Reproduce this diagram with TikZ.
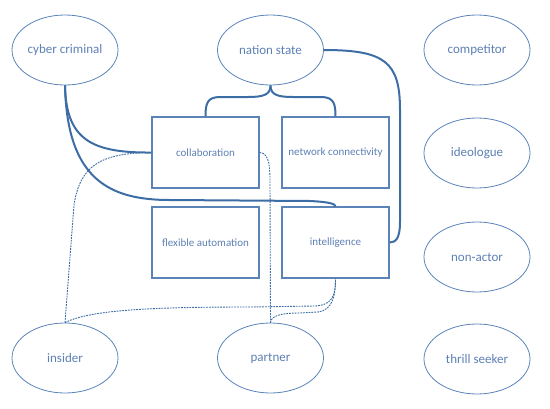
\documentclass[tikz,border=0pt]{standalone}
\usepackage{fontspec}
\setmainfont{Carlito}
\usetikzlibrary{shapes.geometric}
\definecolor{edgeblue}{HTML}{5A84B8}
\definecolor{linkblue}{HTML}{3D6DA5}
\definecolor{textblue}{HTML}{5D80B4}
\tikzset{
  actor/.style={draw=edgeblue, line width=.8pt, ellipse, minimum width=106pt, minimum height=70pt, inner sep=0pt, text=textblue, font=\fontsize{13}{15}\selectfont},
  factor/.style={draw=edgeblue, line width=1.1pt, rectangle, minimum width=107pt, minimum height=71pt, inner sep=0pt, text=textblue, font=\fontsize{11}{13}\selectfont},
  link/.style={draw=linkblue, line width=2pt},
  maybe/.style={draw=linkblue, line width=.9pt, dash pattern=on 1.8pt off 1pt}
}
\begin{document}
\begin{tikzpicture}[x=1pt,y=-1pt]
	\useasboundingbox (0,0) rectangle (550,408);
	% actors
	\node[actor] (cyber) at (65,50) {cyber criminal};
	\node[actor] (nation) at (270.5,50) {nation state};
	\node[actor] (compet) at (477,50) {competitor};
	\node[actor] (ideo) at (477,153) {ideologue};
	\node[actor] (nonact) at (477,257) {non-actor};
	\node[actor] (thrill) at (477,359) {thrill seeker};
	\node[actor] (insider) at (65,358) {insider};
	\node[actor] (partner) at (270.5,358) {partner};
	% factors
	\node[factor] (collab) at (205.5,152.5) {collaboration};
	\node[factor] (netconn) at (335.5,152.5) {network connectivity};
	\node[factor] (flexauto) at (205.5,242.5) {flexible automation};
	\node[factor] (intel) at (335.5,242.5) {intelligence};
	% solid links
	\draw[link] (nation.south) .. controls (270.5,95) and (263,97) .. (248,97) -- (220,97) .. controls (207,97) and (205.5,104) .. (collab.north);
	\draw[link] (nation.south) .. controls (270.5,95) and (278,97) .. (293,97) -- (321,97) .. controls (334,97) and (335.5,104) .. (netconn.north);
	\draw[link] (nation.east) .. controls (385,50) and (400,62) .. (400,110) -- (400,222) .. controls (400,238) and (396,242.5) .. (intel.east);
	\draw[link] (cyber.south) .. controls (66,140) and (92,153) .. (collab.west);
	\draw[link] (cyber.south) .. controls (67,180) and (110,200) .. (170,200) -- (310,201) .. controls (330,202) and (335.5,204) .. (intel.north);
	% dotted links
	\draw[maybe] (insider.north) -- (74,205) .. controls (80,166) and (100,153) .. (collab.west);
	\draw[maybe] (insider.north) .. controls (90,310) and (150,307) .. (250,307) -- (315,306) .. controls (333,305) and (335.5,295) .. (intel.south);
	\draw[maybe] (collab.east) .. controls (267,153) and (270,160) .. (270,180) -- (partner.north);
	\draw[maybe] (partner.north) .. controls (271,316) and (280,313) .. (300,313) -- (318,312) .. controls (333,310) and (335.5,295) .. (intel.south);
\end{tikzpicture}
\end{document}
